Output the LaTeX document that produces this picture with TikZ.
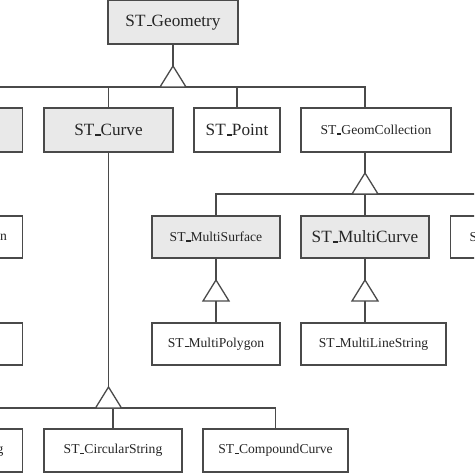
\documentclass[tikz,border=0pt]{standalone}
\usepackage{fontspec}
\setmainfont{Liberation Serif}
\usepackage{xcolor}
\usetikzlibrary{positioning}
\definecolor{boxgray}{HTML}{E9E9E9}
\definecolor{edgegray}{HTML}{4A4A4A}
\newcommand{\stbar}{\kern.06em\vbox{\hrule width .3em height .09em}}
\tikzset{
  graybox/.style   = {draw=edgegray, fill=boxgray, line width=0.65pt, inner sep=0pt, text=black!85},
  whitebox/.style  = {draw=edgegray, fill=white,   line width=0.65pt, inner sep=0pt, text=black!85},
  bigtext/.style   = {font=\fontsize{8.6}{10}\selectfont},
  smalltext/.style = {font=\fontsize{6.8}{8}\selectfont},
  link/.style      = {draw=edgegray, line width=0.65pt},
  gentri/.style    = {draw=edgegray, fill=white, line width=0.65pt, line join=miter}
}

\begin{document}
\begin{tikzpicture}[x=0.5pt, y=-0.5pt]

    \useasboundingbox (0,0) rectangle (474,474);
    \clip (0,0) rectangle (474,474);

    % ── Root ──────────────────────────────────────────────────────────────
    \node[graybox, bigtext, minimum width=65pt, minimum height=21.75pt] (geom) at (173,22.25)
      {ST\stbar Geometry};

    % ── Row 1 ────────────────────────────────────────────────────────────
    \node[graybox, anchor=east, minimum width=65pt, minimum height=22pt] (surf) at (23,130) {};
    \node[graybox, bigtext, minimum width=64.5pt, minimum height=22pt] (curve) at (108.5,130)
      {ST\stbar Curve};
    \node[whitebox, bigtext, minimum width=43pt, minimum height=22pt] (point) at (237,130)
      {ST\stbar Point};
    \node[whitebox, smalltext, minimum width=75pt, minimum height=22pt] (coll) at (376,130)
      {ST\stbar GeomCollection};

    % ── Row 2 ────────────────────────────────────────────────────────────
    \node[whitebox, smalltext, anchor=east, inner xsep=7.75pt, minimum height=21pt] (poly) at (23,237)
      {ST\stbar Polygon};
    \node[graybox, smalltext, minimum width=64pt, minimum height=21pt] (msurf) at (216,237)
      {ST\stbar MultiSurface};
    \node[graybox, bigtext, minimum width=64pt, minimum height=21pt] (mcurve) at (365,237)
      {ST\stbar MultiCurve};
    \node[whitebox, smalltext, anchor=west, inner xsep=9.5pt, minimum height=21pt] (mpoint) at (450,237)
      {ST\stbar MultiPoint};

    % ── Row 3 ────────────────────────────────────────────────────────────
    \node[whitebox, anchor=east, minimum width=60pt, minimum height=21pt] (cpoly) at (23,344) {};
    \node[whitebox, smalltext, minimum width=64pt, minimum height=21pt] (mpoly) at (216,344)
      {ST\stbar MultiPolygon};
    \node[whitebox, smalltext, minimum width=72.5pt, minimum height=21pt] (mline) at (373.5,344)
      {ST\stbar MultiLineString};

    % ── Row 4 ────────────────────────────────────────────────────────────
    \node[whitebox, smalltext, anchor=east, inner xsep=9.5pt, minimum height=21.5pt] (lstr) at (23,450.5)
      {ST\stbar LineString};
    \node[whitebox, smalltext, minimum width=69pt, minimum height=21.5pt] (circ) at (113,450.5)
      {ST\stbar CircularString};
    \node[whitebox, smalltext, minimum width=72.5pt, minimum height=21.5pt] (comp) at (275.5,450.5)
      {ST\stbar CompoundCurve};

    % ── Generalisation points ────────────────────────────────────────────
    \coordinate (gApex) at (173,66);   \coordinate (gBase) at (173,87);
    \coordinate (cApex) at (365,173);  \coordinate (cBase) at (365,194);
    \coordinate (sApex) at (216,280);  \coordinate (sBase) at (216,301);
    \coordinate (mApex) at (365,280);  \coordinate (mBase) at (365,301);
    \coordinate (kApex) at (108.5,387); \coordinate (kBase) at (108.5,408);

    % ST_Geometry subtypes
    \draw[link] (geom.south) -- (gApex);
    \draw[link] (surf.north) |- (gBase);
    \draw[link] (curve.north) |- (gBase);
    \draw[link] (point.north) |- (gBase);
    \draw[link] (mcurve.north |- coll.north) |- (gBase);
    \draw[gentri] (gApex) -- ++(-13,21) -- ++(26,0) -- cycle;

    % ST_GeomCollection subtypes
    \draw[link] (mcurve.north |- coll.south) -- (cApex);
    \draw[link] (msurf.north) |- (cBase);
    \draw[link] (mcurve.north) -- (cBase);
    \draw[link] (mpoint.north) |- (cBase);
    \draw[gentri] (cApex) -- ++(-13,21) -- ++(26,0) -- cycle;

    % ST_MultiSurface / ST_MultiCurve
    \draw[link] (msurf.south) -- (sApex);
    \draw[link] (mpoly.north) -- (sBase);
    \draw[gentri] (sApex) -- ++(-13,21) -- ++(26,0) -- cycle;
    \draw[link] (mcurve.south) -- (mApex);
    \draw[link] (mcurve.south |- mline.north) -- (mBase);
    \draw[gentri] (mApex) -- ++(-13,21) -- ++(26,0) -- cycle;

    % ST_Curve subtypes
    \draw[link] (curve.south) -- (kApex);
    \draw[link] (lstr.north) |- (kBase);
    \draw[link] (circ.north) -- (circ.north |- kBase);
    \draw[link] (comp.north) |- (kBase);
    \draw[gentri] (kApex) -- ++(-13,21) -- ++(26,0) -- cycle;

\end{tikzpicture}
\end{document}
